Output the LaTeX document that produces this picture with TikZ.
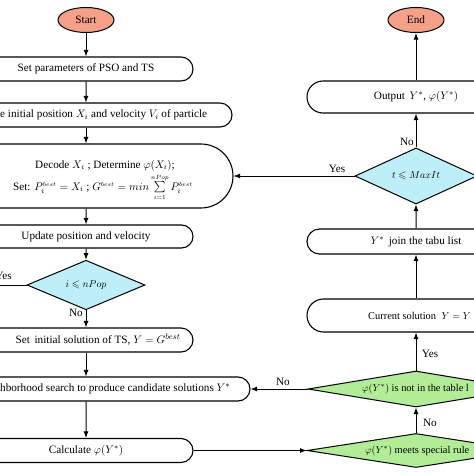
\documentclass[tikz,border=0pt]{standalone}
\usepackage{amssymb}
\usepackage{fontspec}
\setmainfont{Liberation Serif}
\usetikzlibrary{shapes.geometric,shapes.misc,arrows.meta}
\definecolor{termfill}{RGB}{245,160,136}
\definecolor{cyanfill}{RGB}{190,238,248}
\definecolor{greenfill}{RGB}{178,236,150}
\begin{document}
\begin{tikzpicture}[x=1pt,y=-1pt,
  font=\fontsize{11.2}{13}\selectfont,
  line/.style={line width=1pt},
  arr/.style={line width=1pt,-{Latex[length=6.5pt,width=5pt]}},
  term/.style={ellipse,draw,line width=1pt,fill=termfill,minimum width=56pt,minimum height=25pt,inner sep=0pt},
  procbox/.style 2 args={rounded rectangle,draw,line width=1.1pt,inner sep=0pt,minimum width=#1,minimum height=#2},
  cyandec/.style 2 args={diamond,draw,line width=1pt,fill=cyanfill,inner sep=0pt,minimum width=#1,minimum height=#2},
  greendec/.style 2 args={diamond,draw,line width=1pt,fill=greenfill,inner sep=0pt,minimum width=#1,minimum height=#2},
  small/.style={font=\fontsize{10.4}{12}\selectfont},
  lbl/.style={inner sep=1pt}
]
\useasboundingbox (0,0) rectangle (474,474);
\clip (0,0) rectangle (474,474);
% left column
\node[term] (start) at (86,20) {Start};
\node[procbox={214pt}{24pt}] (set) at (86,69) {Set parameters of PSO and TS};
\node[procbox={292pt}{24pt}] (init) at (86,115) {};
\node[anchor=west,inner sep=0pt] (initt) at (0,115) {e initial position $X_i$ and velocity $V_i$ of particle};
\node[procbox={294pt}{64pt}] (decode) at (86,176) {};
\node[anchor=base,inner sep=0pt] (dec1) at (105,168) {Decode $X_i$ ; Determine $\varphi(X_i)$;};
\node[anchor=base,inner sep=0pt] (dec2) at (103,190) {Set: $P_i^{\scriptscriptstyle best}=X_i$ ; $G^{\scriptscriptstyle best}={min}\sum\limits_{\scriptscriptstyle i=1}^{\scriptscriptstyle nPop}P_i^{\scriptscriptstyle best}$};
\node[procbox={214pt}{23pt}] (update) at (86,236.5) {Update position and velocity};
\node[cyandec={118pt}{36pt},small] (di) at (86,285) {$i\leqslant nPop$};
\coordinate (yesend) at (-5,285);
\node[procbox={214pt}{24pt}] (setinit) at (86,340) {};
\node[inner sep=0pt] (setinitt) at (98,340) {Set\, initial solution of TS, $Y=G^{best}$};
\node[procbox={328pt}{24pt}] (neigh) at (86,389) {};
\node[anchor=west,inner sep=0pt] (neight) at (0,389) {hborhood search to produce candidate solutions $Y^{*}$};
\node[procbox={214pt}{24pt}] (calc) at (86,450.5) {Calculate $\varphi(Y^{*})$};
% right column
\node[term] (end) at (416,20) {End};
\node[procbox={218pt}{32pt}] (output) at (416,97) {Output\, $Y^{*}$, $\varphi(Y^{*})$};
\node[cyandec={122pt}{36pt},small] (td) at (416,176) {$t\leqslant MaxIt$};
\node[procbox={218pt}{25pt}] (tabu) at (416,241.5) {$Y^{*}$\, join the tabu list};
\node[procbox={218pt}{33pt}] (cur) at (416,315.5) {};
\node[anchor=west,inner sep=0pt,small] (curt) at (368,315.5) {Current solution\; $Y=Y$};
\node[greendec={216pt}{36pt}] (g1) at (416,389) {};
\node[anchor=west,inner sep=0pt,small] (g1t) at (362,389) {$\varphi(Y^{*})$ is not in the table l};
\node[greendec={218pt}{34pt}] (g2) at (416,450.5) {};
\node[anchor=west,inner sep=0pt,small] (g2t) at (365,450.5) {$\varphi(Y^{*})$ meets special rule};
% connectors
\draw[arr] (start) -- (set);
\draw[arr] (set) -- (init);
\draw[arr] (init) -- (decode);
\draw[arr] (decode) -- (update);
\draw[arr] (update) -- (di);
\draw[line] (di.west) -- (yesend);
\draw[arr] (di) -- (setinit);
\draw[arr] (setinit) -- (neigh);
\draw[arr] (neigh) -- (calc);
\draw[arr] (calc.east) -- (g2.west);
\draw[arr] (g2) -- (g1);
\draw[arr] (g1.west) -- (neigh.east);
\draw[arr] (g1) -- (cur);
\draw[arr] (cur) -- (tabu);
\draw[arr] (tabu) -- (td);
\draw[arr] (td) -- (output);
\draw[arr] (output) -- (end);
\draw[arr] (td.west) -- (decode.east);
% labels
\node[lbl,anchor=east] (lyes1) at (13,276) {Yes};
\node[lbl,anchor=east] (lno1) at (84,313) {No};
\node[lbl] (lno2) at (283,382) {No};
\node[lbl] (lno3) at (430,423) {No};
\node[lbl] (lyes2) at (430,354) {Yes};
\node[lbl,anchor=east] (lno4) at (415,142) {No};
\node[lbl] (lyes3) at (337,169) {Yes};
\end{tikzpicture}
\end{document}
